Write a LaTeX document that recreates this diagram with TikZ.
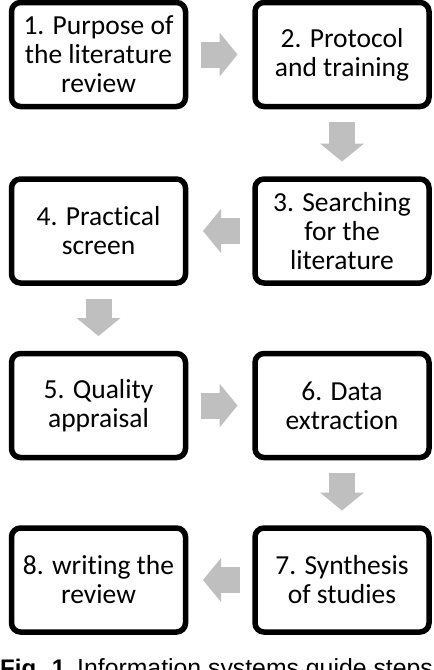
\documentclass[tikz,border=0pt]{standalone}
\usepackage{fontspec}
\setmainfont{Carlito}[Ligatures=NoCommon]
\newfontfamily\capfont{Liberation Sans}
\usetikzlibrary{arrows.meta}
\definecolor{arrowgray}{RGB}{191,191,191}
\tikzset{
  stepbox/.style={draw=black, fill=white, line width=5.5pt, rounded corners=9pt,
    minimum width=174pt, minimum height=104pt, outer sep=0pt, inner sep=0pt,
    align=center, font=\fontsize{27.5}{29}\selectfont},
  blockarrow/.style={draw=arrowgray, line width=26pt, line cap=butt,
    -{Triangle[length=18pt,width=44pt,line width=0pt]},
    shorten <=15.5pt, shorten >=17.5pt},
  captext/.style={anchor=base west, inner sep=0pt, font=\capfont\fontsize{24.8}{26}\selectfont}
}
\begin{document}
\begin{tikzpicture}[x=1pt,y=-1pt]
\useasboundingbox (0,0) rectangle (434,670);
\clip (0,0) rectangle (434,670);
\fill[white] (0,0) rectangle (434,670);
\node[stepbox] (b1) at (98.5,54.5) {1. Purpose of\\the literature\\review};
\node[stepbox] (b2) at (342,54.5) {2. Protocol\\and training};
\node[stepbox] (b3) at (342,231) {3. Searching\\for the\\literature};
\node[stepbox] (b4) at (98.5,231) {4. Practical\\screen};
\node[stepbox] (b5) at (98.5,405.5) {5. Quality\\appraisal};
\node[stepbox] (b6) at (342,405.5) {6. Data\\extraction};
\node[stepbox] (b7) at (342,580) {7. Synthesis\\of studies};
\node[stepbox] (b8) at (98.5,580) {8. writing the\\review};
\draw[blockarrow] (b1) -- (b2);
\draw[blockarrow] (b2) -- (b3);
\draw[blockarrow] (b3) -- (b4);
\draw[blockarrow] (b4) -- (b5);
\draw[blockarrow] (b5) -- (b6);
\draw[blockarrow] (b6) -- (b7);
\draw[blockarrow] (b7) -- (b8);
\node[captext, font=\capfont\bfseries\fontsize{24}{26}\selectfont] (fig) at (0,676) {Fig. 1};
\node[captext] (cap) at (77,676) {Information systems guide steps};
\end{tikzpicture}
\end{document}
